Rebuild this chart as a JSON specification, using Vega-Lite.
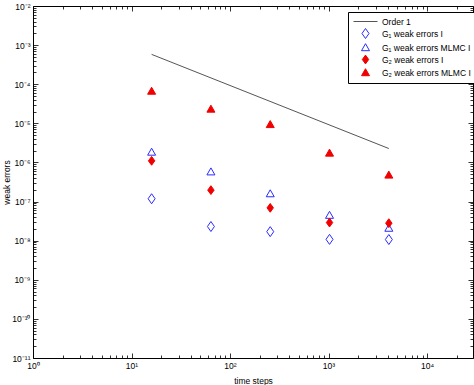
{
  "$schema": "https://vega.github.io/schema/vega-lite/v6.json",
  "width": 440,
  "height": 352,
  "autosize": {"type": "none"},
  "padding": {"left": 33, "top": 6, "right": 1, "bottom": 27},
  "background": "white",
  "config": {
    "view": {"stroke": null},
    "font": "Liberation Sans",
    "axis": {"domainColor": "black", "tickColor": "black", "labelColor": "black", "titleColor": "black", "grid": false, "labelFont": "Liberation Sans", "titleFont": "Liberation Sans", "titleFontWeight": "normal", "labelFontSize": 8.5, "titleFontSize": 8.5, "labelOverlap": false, "labelFlush": false, "domainWidth": 1, "tickWidth": 0.8}
  },
  "datasets": {
    "pts": [
      {"series": "G₁ weak errors I", "steps": 16, "err": 1.18e-7},
      {"series": "G₁ weak errors I", "steps": 64, "err": 2.3e-8},
      {"series": "G₁ weak errors I", "steps": 256, "err": 1.7e-8},
      {"series": "G₁ weak errors I", "steps": 1024, "err": 1.08e-8},
      {"series": "G₁ weak errors I", "steps": 4096, "err": 1.07e-8},
      {"series": "G₁ weak errors MLMC I", "steps": 16, "err": 1.85e-6},
      {"series": "G₁ weak errors MLMC I", "steps": 64, "err": 5.8e-7},
      {"series": "G₁ weak errors MLMC I", "steps": 256, "err": 1.6e-7},
      {"series": "G₁ weak errors MLMC I", "steps": 1024, "err": 4.5e-8},
      {"series": "G₁ weak errors MLMC I", "steps": 4096, "err": 2.1e-8},
      {"series": "G₂ weak errors I", "steps": 16, "err": 1.1e-6},
      {"series": "G₂ weak errors I", "steps": 64, "err": 1.96e-7},
      {"series": "G₂ weak errors I", "steps": 256, "err": 6.9e-8},
      {"series": "G₂ weak errors I", "steps": 1024, "err": 2.9e-8},
      {"series": "G₂ weak errors I", "steps": 4096, "err": 2.8e-8},
      {"series": "G₂ weak errors MLMC I", "steps": 16, "err": 6.7e-5},
      {"series": "G₂ weak errors MLMC I", "steps": 64, "err": 2.33e-5},
      {"series": "G₂ weak errors MLMC I", "steps": 256, "err": 9.4e-6},
      {"series": "G₂ weak errors MLMC I", "steps": 1024, "err": 1.75e-6},
      {"series": "G₂ weak errors MLMC I", "steps": 4096, "err": 4.8e-7}
    ],
    "ref": [
      {"series": "Order 1", "steps": 16, "err": 5.8e-4},
      {"series": "Order 1", "steps": 4096, "err": 2.27e-6}
    ]
  },
  "layer": [
    {
      "data": {"name": "pts"},
      "mark": {"type": "point", "size": 64, "strokeWidth": 1, "opacity": 1},
      "encoding": {
        "x": {
          "field": "steps", "type": "quantitative",
          "scale": {"type": "log", "domain": [1, 29300], "nice": false},
          "axis": {
            "orient": "bottom", "title": "time steps", "titleY": 22, "titleBaseline": "middle",
            "values": [1,2,3,4,5,6,7,8,9,10,20,30,40,50,60,70,80,90,100,200,300,400,500,600,700,800,900,1000,2000,3000,4000,5000,6000,7000,8000,9000,10000,20000],
            "tickSize": {"condition": {"test": "abs(log(datum.value)/LN10 - round(log(datum.value)/LN10)) < 1e-6", "value": -5}, "value": -3},
            "labelPadding": 8,
            "labelExpr": "datum.value == 1 ? '10⁰' : datum.value == 10 ? '10¹' : datum.value == 100 ? '10²' : datum.value == 1000 ? '10³' : datum.value == 10000 ? '10⁴' : ''"
          }
        },
        "y": {
          "field": "err", "type": "quantitative",
          "scale": {"type": "log", "domain": [1e-11, 1e-2], "nice": false},
          "axis": {
            "orient": "left", "title": "weak errors", "titleX": -27, "titleY": 176, "titleBaseline": "middle",
            "values": [1e-11,2e-11,3e-11,4e-11,5e-11,6e-11,7e-11,8e-11,9e-11,1e-10,2e-10,3e-10,4e-10,5e-10,6e-10,7e-10,8e-10,9e-10,1e-9,2e-9,3e-9,4e-9,5e-9,6e-9,7e-9,8e-9,9e-9,1e-8,2e-8,3e-8,4e-8,5e-8,6e-8,7e-8,8e-8,9e-8,1e-7,2e-7,3e-7,4e-7,5e-7,6e-7,7e-7,8e-7,9e-7,1e-6,2e-6,3e-6,4e-6,5e-6,6e-6,7e-6,8e-6,9e-6,1e-5,2e-5,3e-5,4e-5,5e-5,6e-5,7e-5,8e-5,9e-5,1e-4,2e-4,3e-4,4e-4,5e-4,6e-4,7e-4,8e-4,9e-4,1e-3,2e-3,3e-3,4e-3,5e-3,6e-3,7e-3,8e-3,9e-3,1e-2],
            "tickSize": {"condition": {"test": "abs(log(datum.value)/LN10 - round(log(datum.value)/LN10)) < 1e-6", "value": -5}, "value": -3},
            "labelPadding": 8,
            "labelExpr": "datum.value == 1e-11 ? '10⁻¹¹' : datum.value == 1e-10 ? '10⁻¹⁰' : datum.value == 1e-9 ? '10⁻⁹' : datum.value == 1e-8 ? '10⁻⁸' : datum.value == 1e-7 ? '10⁻⁷' : datum.value == 1e-6 ? '10⁻⁶' : datum.value == 1e-5 ? '10⁻⁵' : datum.value == 1e-4 ? '10⁻⁴' : datum.value == 1e-3 ? '10⁻³' : datum.value == 1e-2 ? '10⁻²' : ''"
          }
        },
        "shape": {
          "field": "series", "type": "nominal",
          "scale": {
            "domain": ["Order 1", "G₁ weak errors I", "G₁ weak errors MLMC I", "G₂ weak errors I", "G₂ weak errors MLMC I"],
            "range": ["M-3,0H3", "M0,-1.25L0.875,0L0,1.25L-0.875,0Z", "M0,-0.95L1,0.8L-1,0.8Z", "M0,-1.1L0.8,0L0,1.1L-0.8,0Z", "M0,-0.95L1,0.8L-1,0.8Z"]
          },
          "legend": {
            "orient": "none", "legendX": 315, "legendY": 6, "title": null,
            "strokeColor": "black", "fillColor": "white", "padding": 5,
            "symbolSize": 64, "symbolStrokeWidth": 1, "symbolOffset": 8, "labelOffset": 12,
            "labelFont": "Liberation Sans", "labelFontSize": 8.5, "labelColor": "black", "rowPadding": 0, "labelLimit": 200
          }
        },
        "fill": {
          "field": "series", "type": "nominal",
          "scale": {
            "domain": ["Order 1", "G₁ weak errors I", "G₁ weak errors MLMC I", "G₂ weak errors I", "G₂ weak errors MLMC I"],
            "range": ["transparent", "transparent", "transparent", "#f00000", "#f00000"]
          }
        },
        "stroke": {
          "field": "series", "type": "nominal",
          "scale": {
            "domain": ["Order 1", "G₁ weak errors I", "G₁ weak errors MLMC I", "G₂ weak errors I", "G₂ weak errors MLMC I"],
            "range": ["#555555", "#2a2aff", "#2a2aff", "#f00000", "#f00000"]
          }
        }
      }
    },
    {
      "data": {"name": "ref"},
      "mark": {"type": "line", "color": "#555555", "strokeWidth": 1},
      "encoding": {
        "x": {
          "field": "steps", "type": "quantitative",
          "axis": {
            "orient": "top", "title": null, "labels": false,
            "values": [1,2,3,4,5,6,7,8,9,10,20,30,40,50,60,70,80,90,100,200,300,400,500,600,700,800,900,1000,2000,3000,4000,5000,6000,7000,8000,9000,10000,20000],
            "tickSize": {"condition": {"test": "abs(log(datum.value)/LN10 - round(log(datum.value)/LN10)) < 1e-6", "value": -5}, "value": -3}
          }
        },
        "y": {
          "field": "err", "type": "quantitative",
          "axis": {
            "orient": "right", "title": null, "labels": false,
            "values": [1e-11,2e-11,3e-11,4e-11,5e-11,6e-11,7e-11,8e-11,9e-11,1e-10,2e-10,3e-10,4e-10,5e-10,6e-10,7e-10,8e-10,9e-10,1e-9,2e-9,3e-9,4e-9,5e-9,6e-9,7e-9,8e-9,9e-9,1e-8,2e-8,3e-8,4e-8,5e-8,6e-8,7e-8,8e-8,9e-8,1e-7,2e-7,3e-7,4e-7,5e-7,6e-7,7e-7,8e-7,9e-7,1e-6,2e-6,3e-6,4e-6,5e-6,6e-6,7e-6,8e-6,9e-6,1e-5,2e-5,3e-5,4e-5,5e-5,6e-5,7e-5,8e-5,9e-5,1e-4,2e-4,3e-4,4e-4,5e-4,6e-4,7e-4,8e-4,9e-4,1e-3,2e-3,3e-3,4e-3,5e-3,6e-3,7e-3,8e-3,9e-3,1e-2],
            "tickSize": {"condition": {"test": "abs(log(datum.value)/LN10 - round(log(datum.value)/LN10)) < 1e-6", "value": -5}, "value": -3}
          }
        }
      }
    }
  ],
  "resolve": {"axis": {"x": "independent", "y": "independent"}}
}
